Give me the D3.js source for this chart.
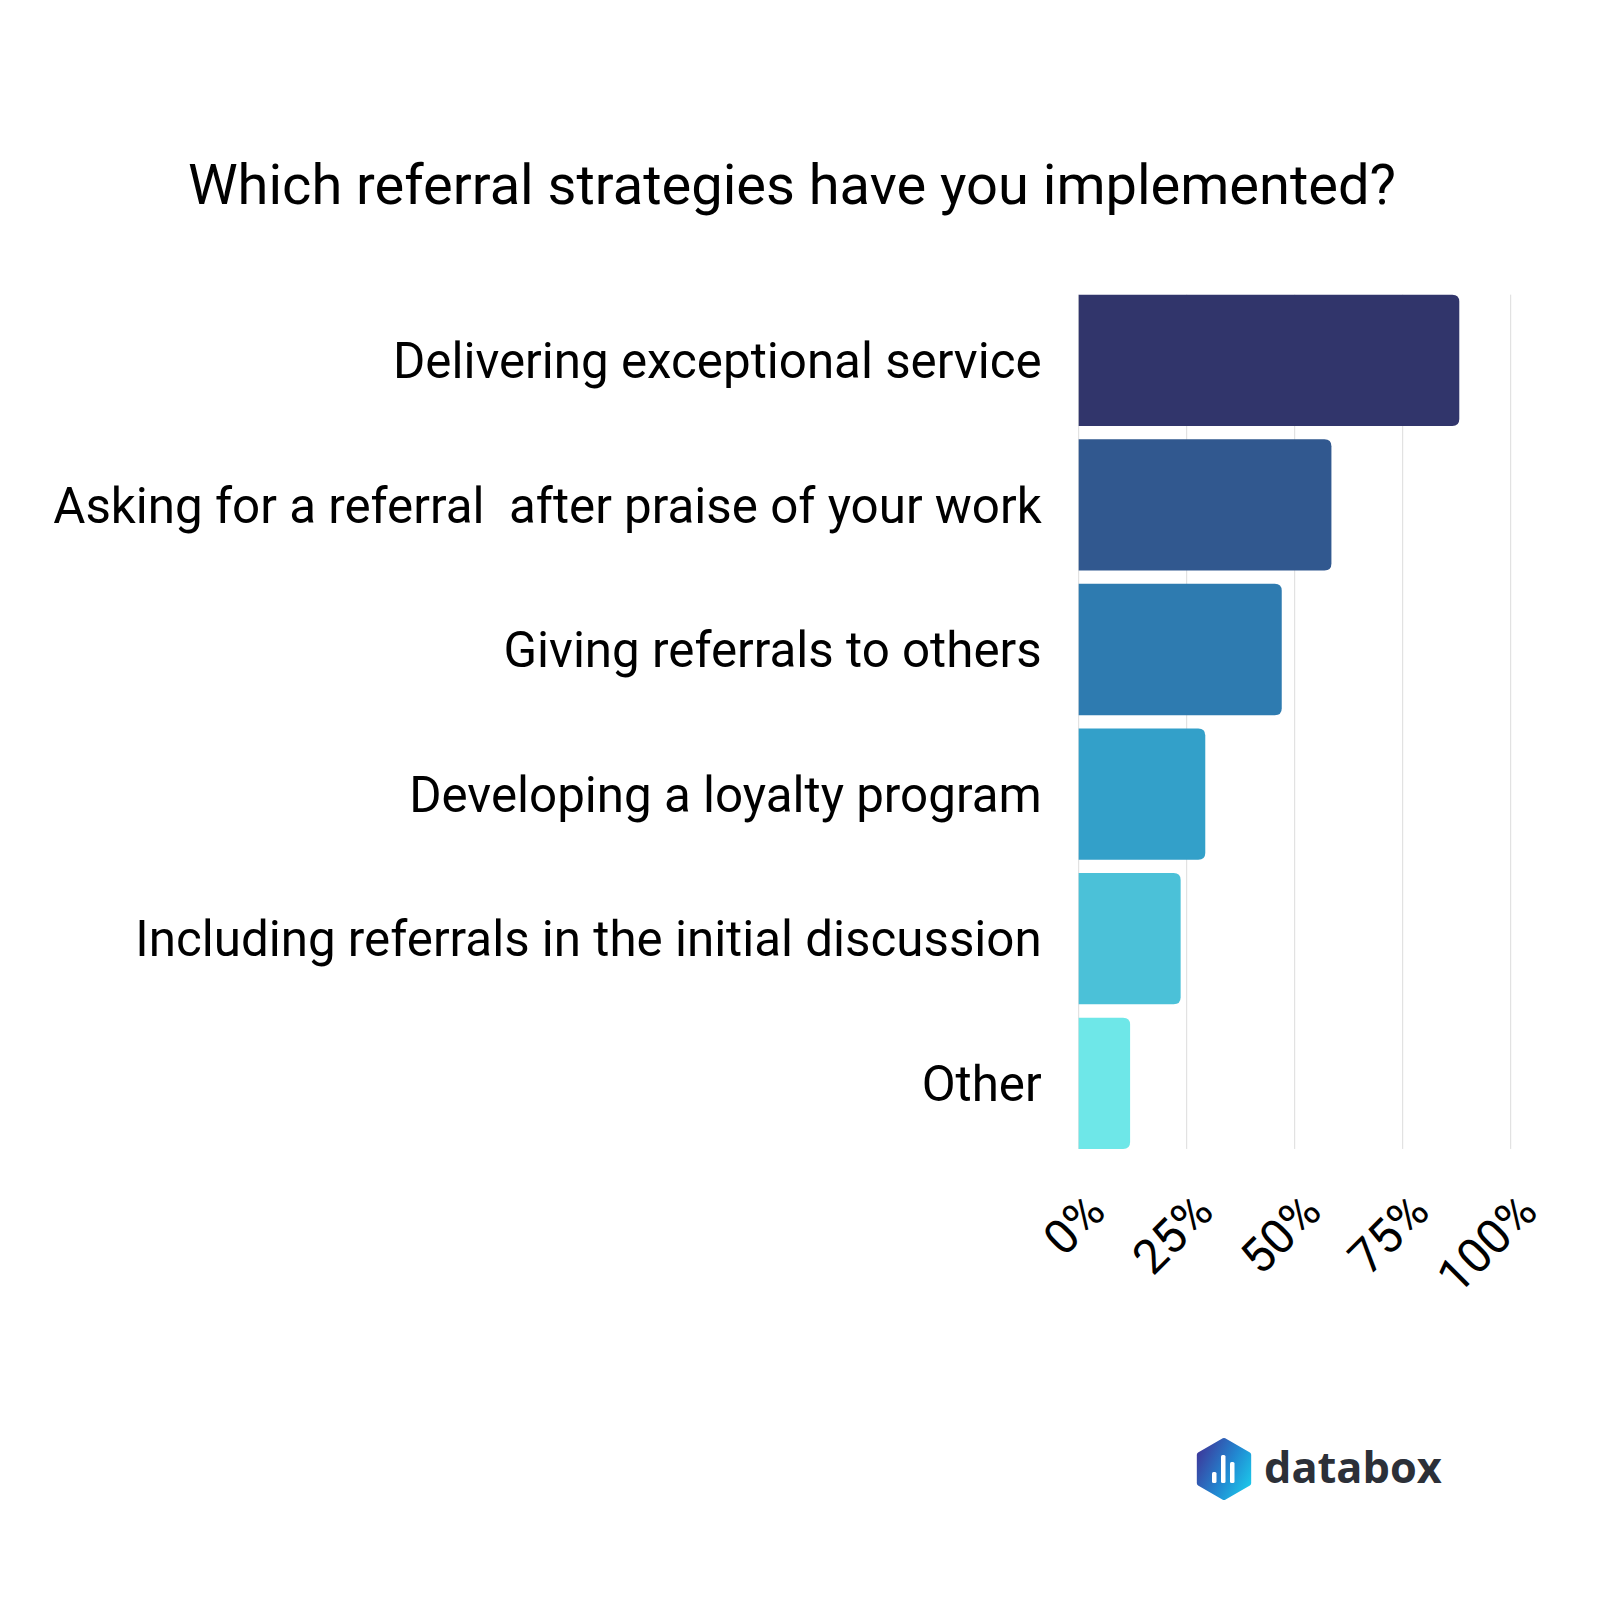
<!DOCTYPE html>
<html>
<head>
<meta charset="utf-8">
<script src="https://cdn.jsdelivr.net/npm/d3@7/dist/d3.min.js"></script>
<style>
  html, body { margin: 0; padding: 0; background: #ffffff; }
  svg { display: block; }
  text { white-space: pre; }
</style>
</head>
<body>
<svg id="chart" width="1600" height="1600"></svg>
<script>
const title = "Which referral strategies have you implemented?";
const categories = [
  "Delivering exceptional service",
  "Asking for a referral  after praise of your work",
  "Giving referrals to others",
  "Developing a loyalty program",
  "Including referrals in the initial discussion",
  "Other"
];
const values = [88.1, 58.5, 47.0, 29.3, 23.6, 11.9];
const colors = ["#31356b", "#31588f", "#2e7bb0", "#33a0c9", "#4bc1d8", "#6ee7e8"];
const tickValues = [0, 25, 50, 75, 100];
const tickLabels = ["0%", "25%", "50%", "75%", "100%"];

const svg = d3.select("#chart");
const font = "Roboto, 'Noto Sans', sans-serif";

const x = d3.scaleLinear().domain([0, 100]).range([1078.7, 1510.7]);
const y = d3.scaleBand().domain(categories).range([288, 1155.6])
  .paddingInner(0.092).paddingOuter(0.046);

// title
svg.append("text")
  .attr("x", 792).attr("y", 204)
  .attr("text-anchor", "middle")
  .attr("font-family", font).attr("font-size", 56)
  .attr("fill", "#000")
  .text(title);

const gridTop = y(categories[0]);
const gridBottom = y(categories[categories.length - 1]) + y.bandwidth();

// gridlines
svg.append("g").selectAll("line").data(tickValues).join("line")
  .attr("x1", d => x(d)).attr("x2", d => x(d))
  .attr("y1", gridTop).attr("y2", gridBottom)
  .attr("stroke", "#dcdcdc").attr("stroke-width", 1);

// bars: square left, rounded right
const r = 7;
function barPath(d, i) {
  const x0 = x(0), x1 = x(d), y0 = y(categories[i]), h = y.bandwidth();
  const rr = Math.min(r, (x1 - x0) / 2);
  return `M${x0},${y0} H${x1 - rr} Q${x1},${y0} ${x1},${y0 + rr} V${y0 + h - rr} Q${x1},${y0 + h} ${x1 - rr},${y0 + h} H${x0} Z`;
}
svg.append("g").selectAll("path").data(values).join("path")
  .attr("d", (d, i) => barPath(d, i))
  .attr("fill", (d, i) => colors[i]);

// category labels
svg.append("g").selectAll("text").data(categories).join("text")
  .attr("x", x(0) - 37)
  .attr("y", d => y(d) + y.bandwidth() / 2)
  .attr("dy", "0.36em")
  .attr("text-anchor", "end")
  .attr("xml:space", "preserve")
  .attr("font-family", font).attr("font-size", 49.3)
  .attr("fill", "#000")
  .text(d => d);

// x tick labels rotated
svg.append("g").selectAll("text").data(tickValues).join("text")
  .attr("transform", d => `translate(${x(d) + 29},${1214}) rotate(-45)`)
  .attr("text-anchor", "end")
  .attr("font-family", font).attr("font-size", 48)
  .attr("fill", "#000")
  .text((d, i) => tickLabels[i]);

// databox logo
const defs = svg.append("defs");
const grad = defs.append("linearGradient").attr("id", "lg")
  .attr("x1", "0%").attr("y1", "20%").attr("x2", "100%").attr("y2", "80%");
grad.append("stop").attr("offset", "0%").attr("stop-color", "#3b3d9e");
grad.append("stop").attr("offset", "55%").attr("stop-color", "#2286d0");
grad.append("stop").attr("offset", "100%").attr("stop-color", "#1cc3e8");
const cx = 1224, cy = 1469, R = 28.5;
const hex = d3.range(6).map(k => {
  const a = Math.PI / 180 * (60 * k - 90);
  return [cx + R * Math.cos(a), cy + R * Math.sin(a)];
});
svg.append("path")
  .attr("d", "M" + hex.map(p => p.join(",")).join("L") + "Z")
  .attr("fill", "url(#lg)").attr("stroke", "url(#lg)")
  .attr("stroke-width", 5).attr("stroke-linejoin", "round");
const logoBars = [[1212, 1472], [1221, 1455], [1230, 1462]];
svg.append("g").selectAll("rect").data(logoBars).join("rect")
  .attr("x", d => d[0]).attr("y", d => d[1])
  .attr("width", 4.5).attr("height", d => 1483 - d[1])
  .attr("rx", 1.5).attr("fill", "#fff");
svg.append("text")
  .attr("x", 1264).attr("y", 1483)
  .attr("font-family", "'Open Sans', sans-serif").attr("font-weight", 700)
  .attr("font-size", 43.3).attr("fill", "#2c3038")
  .text("databox");
</script>
</body>
</html>
